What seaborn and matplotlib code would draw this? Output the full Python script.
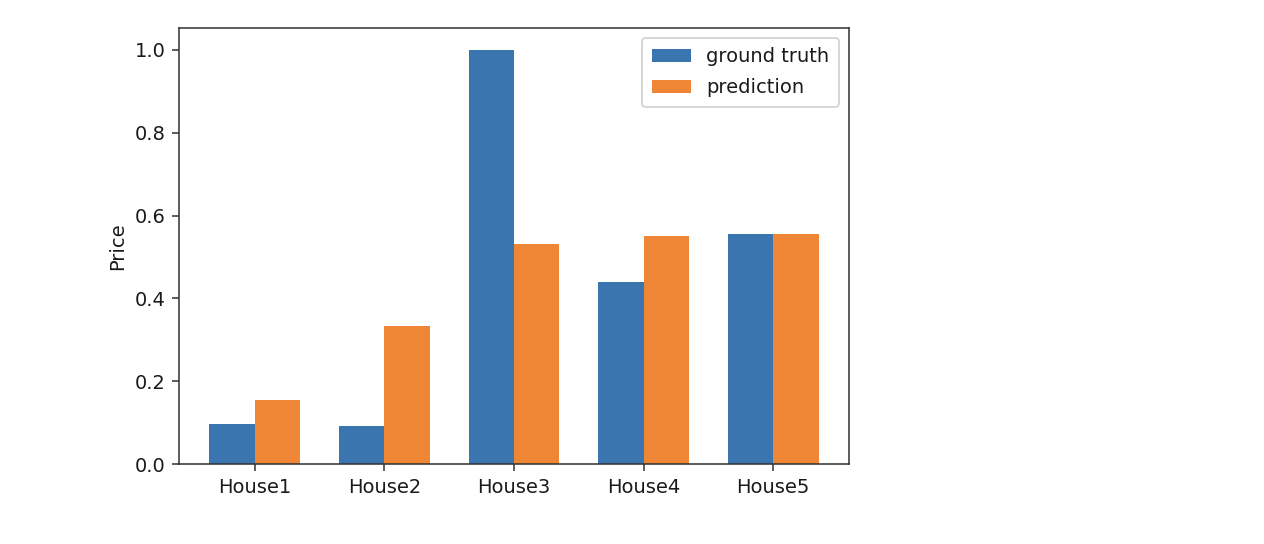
import pandas as pd
import numpy as np
import matplotlib.pyplot as plt
import seaborn as sns

houses = ["House1", "House2", "House3", "House4", "House5"]
ground_truth = [0.097, 0.092, 1.0, 0.44, 0.556]
prediction = [0.155, 0.333, 0.531, 0.551, 0.556]

df = pd.DataFrame({
    "house": houses * 2,
    "value": ground_truth + prediction,
    "series": ["ground truth"] * 5 + ["prediction"] * 5,
})

sns.set_style("ticks")
plt.rcParams["font.family"] = ["DejaVu Sans"]
plt.rcParams["text.color"] = "#1a1a1a"
plt.rcParams["axes.labelcolor"] = "#1a1a1a"
plt.rcParams["xtick.color"] = "#1a1a1a"
plt.rcParams["ytick.color"] = "#1a1a1a"

dpi = 140
fig = plt.figure(figsize=(1264 / dpi, 544 / dpi), dpi=dpi)
ax = fig.add_axes([179 / 1264, 1 - 464 / 544, (849 - 179) / 1264, (464 - 28) / 544])

sns.barplot(data=df, x="house", y="value", hue="series", ax=ax,
            palette=["#3a75af", "#ef8636"], saturation=1, width=0.7,
            errorbar=None, linewidth=0)

ax.set_xlim(-0.585, 4.585)
ax.set_ylim(0, 1.053)
ax.set_xlabel("")
ax.set_ylabel("Price", fontsize=10)
ax.tick_params(labelsize=10, length=3.5, width=0.8, color="#333333")
for s in ax.spines.values():
    s.set_visible(True)
    s.set_linewidth(0.8)
    s.set_color("#333333")
ax.legend(title=None, loc="upper right", fontsize=10, frameon=True,
          borderpad=0.5, labelspacing=0.6)

fig.savefig("out.png", dpi=dpi)
